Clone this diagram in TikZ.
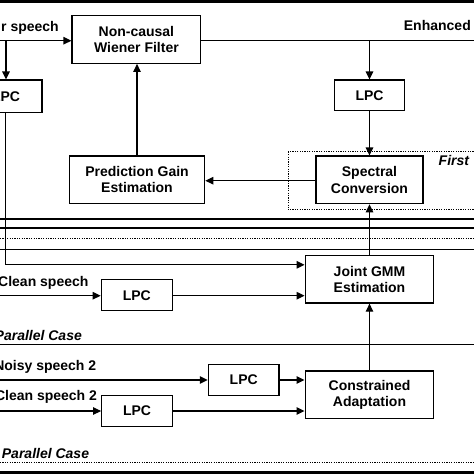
\documentclass[tikz,border=0pt]{standalone}
\usepackage{fontspec}
\setmainfont{Liberation Sans}
\usetikzlibrary{arrows.meta}
\begin{document}
\begin{tikzpicture}[x=1pt,y=-1pt,
  blk/.style={draw,line width=1.2pt,minimum width=#1,inner sep=0pt,align=center,
    font=\fontsize{14}{16.5}\selectfont\bfseries},
  blk/.default=70pt,
  lbl/.style={anchor=base west,inner sep=0pt,font=\fontsize{14}{16.5}\selectfont\bfseries},
  ilbl/.style={lbl,font=\fontsize{14}{16.5}\selectfont\bfseries\itshape},
  con/.style={line width=1.2pt},
  arr/.style={con,-{Triangle[length=8pt,width=7.5pt]}},
  band/.style={line width=1.8pt},
  thin/.style={line width=0.9pt},
  dotl/.style={line width=0.9pt,dash pattern=on 1.2pt off 1.2pt}]
\useasboundingbox (0,0) rectangle (474,474);
\clip (0,0) rectangle (474,474);
% frame bands
\fill (0,0) rectangle (474,2.5);
\fill (0,471) rectangle (474,474);
% blocks
\node[blk=128.7pt,minimum height=47.6pt] (wf) at (136.4,39.5) {Non-causal\\Wiener Filter};
\node[blk=72pt,minimum height=32.7pt] (lpcL) at (6,96.4) {LPC};
\node[blk=70.6pt,minimum height=30.7pt] (lpcR) at (369.5,95.4) {LPC};
\node[blk=135.4pt,minimum height=47.3pt] (pge) at (137,179.7) {Prediction Gain\\Estimation};
\node[blk=107pt,minimum height=47.7pt] (sc) at (369.5,179.9) {Spectral\\Conversion};
\node[blk=128.7pt,minimum height=47.3pt] (jg) at (369.5,279.4) {Joint GMM\\Estimation};
\node[blk=71pt,minimum height=30.7pt] (lpcC) at (136.8,295.2) {LPC};
\node[blk=70.7pt,minimum height=31.4pt] (lpcN) at (243.7,380) {LPC};
\node[blk=70.6pt,minimum height=30.7pt] (lpcC2) at (137,411) {LPC};
\node[blk=128.7pt,minimum height=47.3pt] (ca) at (369.5,394.7) {Constrained\\Adaptation};
% dotted stage box
\draw[dotl] (288,151.7) rectangle (480,209.7);
% separator lines
\draw[band] (0,219.3) -- (474,219.3);
\draw[band] (0,228) -- (474,228);
\draw[dotl] (0,238.5) -- (474,238.5);
\draw[thin] (0,249.5) -- (474,249.5);
\draw[thin] (0,344.7) -- (474,344.7);
\draw[dotl] (0,462.7) -- (474,462.7);
% labels
\node[lbl] (t1) at (1,31) {r speech};
\node[lbl,anchor=base east] (t2) at (471,30) {Enhanced};
\node[ilbl] (t3) at (438.5,165) {First};
\node[lbl] (t4) at (-2,286.7) {Clean speech};
\node[ilbl] (t5) at (-5.5,340) {Parallel Case};
\node[lbl] (t6) at (-5.9,370) {Noisy speech 2};
\node[lbl] (t7) at (-5.2,400.7) {Clean speech 2};
\node[ilbl] (t8) at (1.7,458.3) {Parallel Case};
% coordinates
\coordinate (in1) at (0,40.7);
\coordinate (sp1) at (6,40.7);
\coordinate (out1) at (474,40.7);
\coordinate (sp2) at (369.5,40.7);
\coordinate (bend) at (5.3,264.8);
\coordinate (in2) at (0,295.7);
\coordinate (in3) at (0,380);
\coordinate (in4) at (0,411);
% connectors
\draw[arr] (in1) -- (in1 -| wf.west);
\draw[arr] (sp1) -- (lpcL.north);
\draw[con] (in1 -| wf.east) -- (out1);
\draw[arr] (sp2) -- (lpcR.north);
\draw[arr] (lpcR.south) -- (sc.north);
\draw[arr] (sc.west |- 0,180.7) -- (pge.east |- 0,180.7);
\draw[arr] (pge.north) -- (pge.north |- wf.south);
\draw[arr] (lpcL.south -| bend) -- (bend) -- (bend -| jg.west);
\draw[arr] (in2) -- (lpcC.west |- in2);
\draw[arr] (lpcC.east |- in2) -- (jg.west |- in2);
\draw[arr] (jg.north) -- (sc.south);
\draw[arr] (ca.north) -- (jg.south);
\draw[arr] (in3) -- (lpcN.west);
\draw[arr] (lpcN.east) -- (ca.west |- lpcN.east);
\draw[arr] (in4) -- (lpcC2.west);
\draw[arr] (lpcC2.east) -- (ca.west |- lpcC2.east);
\end{tikzpicture}
\end{document}
